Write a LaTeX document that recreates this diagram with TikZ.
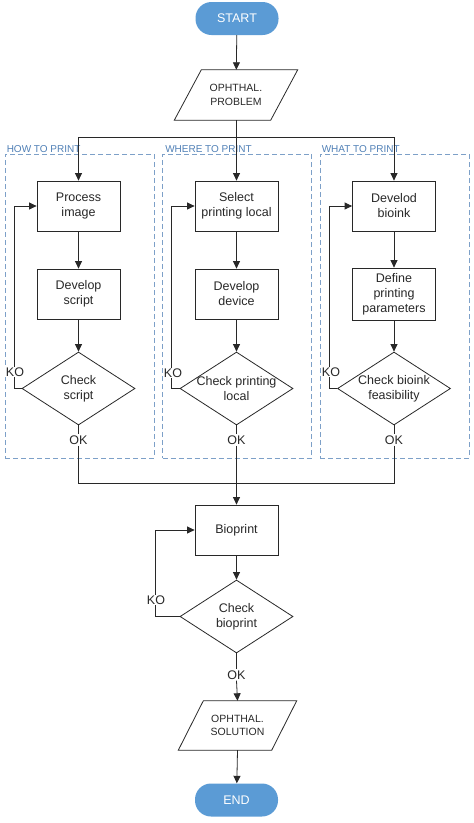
\documentclass[tikz,border=0pt]{standalone}
\usepackage{fontspec}
\setmainfont{Liberation Sans}
\usetikzlibrary{shapes.geometric,arrows.meta}
\definecolor{termblue}{RGB}{91,155,213}
\definecolor{dashblue}{RGB}{125,160,200}
\definecolor{titleblue}{RGB}{80,128,182}
\definecolor{linegray}{RGB}{40,40,40}
\begin{document}
\begin{tikzpicture}[x=1pt,y=-1pt,
  every node/.style={font=\fontsize{12.5}{15}\selectfont, text=linegray},
  ln/.style={draw=linegray, line width=0.8pt},
  arr/.style={ln, -{Triangle[width=7pt,length=7.5pt]}},
  term/.style={fill=termblue, draw=none, rounded corners=16pt, minimum width=83pt, minimum height=33pt, text=white, inner sep=0pt},
  proc/.style={ln, draw, fill=white, minimum width=83pt, minimum height=50pt, align=center, inner sep=1pt},
  dec/.style={ln, draw, diamond, fill=white, minimum width=113pt, minimum height=73pt, inner sep=0pt},
  dectext/.style={align=center, inner sep=0pt},
  io/.style={minimum width=96pt, minimum height=50pt, align=center, inner sep=0pt, font=\fontsize{10.5}{13.5}\selectfont},
  lab/.style={fill=white, inner sep=1pt, font=\fontsize{12.5}{14}\selectfont},
  grp/.style={draw=dashblue, line width=0.9pt, dash pattern=on 5pt off 3pt, minimum width=149pt, minimum height=304pt, inner sep=0pt},
  grptitle/.style={text=titleblue, font=\fontsize{10}{12}\selectfont, inner sep=0pt, anchor=base west}
]
\useasboundingbox (0,0) rectangle (474,823);

% group frames
\node[grp] (g1) at (79.5,306) {};
\node[grp] (g2) at (237,306) {};
\node[grp] (g3) at (394.5,306) {};
\node[grptitle] (g1t) at ([xshift=2pt,yshift=1.5pt]g1.north west) {HOW TO PRINT};
\node[grptitle] (g2t) at ([xshift=3pt,yshift=1.5pt]g2.north west) {WHERE TO PRINT};
\node[grptitle] (g3t) at ([xshift=2pt,yshift=1.5pt]g3.north west) {WHAT TO PRINT};

% top
\node[term] (start) at (237,18.5) {START};
\node[io] (prob) at (236,95) {OPHTHAL.\\PROBLEM};
\draw[ln] ([xshift=13.5pt]prob.north west) -- ([xshift=13.5pt]prob.north east)
  -- ([xshift=-13.5pt]prob.south east) -- ([xshift=-13.5pt]prob.south west) -- cycle;
\coordinate (split) at (236,137);
\coordinate (join) at (236.5,483);

% column 1
\node[proc] (a1) at (78.5,206) {Process\\image};
\node[proc] (a2) at (78.5,294) {Develop\\script};
\node[dec] (a3) at (78.5,388.5) {};
\node[dectext] (a3t) at (a3) {Check\\script};
% column 2
\node[proc] (b1) at (236.5,206) {Select\\printing local};
\node[proc] (b2) at (236.5,294) {Develop\\device};
\node[dec] (b3) at (236.5,388.5) {};
\node[dectext] (b3t) at (b3) {Check printing\\local};
% column 3
\node[proc] (c1) at (394,206) {Develod\\bioink};
\node[proc, minimum height=52pt] (c2) at (394,294) {Define\\printing\\parameters};
\node[dec] (c3) at (394,388.5) {};
\node[dectext] (c3t) at (c3) {Check bioink\\feasibility};

% bottom
\node[proc] (bio) at (236.5,530) {Bioprint};
\node[dec] (d4) at (236.5,616.5) {};
\node[dectext] (d4t) at (d4) {Check\\bioprint};
\node[io, minimum width=93pt, minimum height=49pt] (sol) at (237.5,725.5) {OPHTHAL.\\SOLUTION};
\draw[ln] ([xshift=12.5pt]sol.north west) -- ([xshift=12.5pt]sol.north east)
  -- ([xshift=-12.5pt]sol.south east) -- ([xshift=-12.5pt]sol.south west) -- cycle;
\node[term] (end) at (236.5,800) {END};

% OK labels
\node[lab] (ok1) at (78.5,440) {OK};
\node[lab] (ok2) at (236.5,440) {OK};
\node[lab] (ok3) at (394,440) {OK};
\node[lab] (ok4) at (236.5,675) {OK};

% connectors
\draw[arr] (start) -- (prob);
\draw[ln] (prob.south) -- (split);
\draw[arr] (split) -| (a1.north);
\draw[arr] (split) -- (split -| b1.north) -- (b1.north);
\draw[arr] (split) -| (c1.north);

\draw[arr] (a1) -- (a2);
\draw[arr] (a2) -- (a3);
\draw[arr] (b1) -- (b2);
\draw[arr] (b2) -- (b3);
\draw[arr] (c1) -- (c2);
\draw[arr] (c2) -- (c3);

\draw[arr] (a3.west) -- ++(-7.5,0) |- (a1.west);
\draw[arr] (b3.west) -- ++(-8,0) |- (b1.west);
\draw[arr] (c3.west) -- ++(-8,0) |- (c1.west);

\draw[ln] (a3.south) -- (ok1.north);
\draw[ln] (b3.south) -- (ok2.north);
\draw[ln] (c3.south) -- (ok3.north);
\draw[ln] (ok1.south) |- (join);
\draw[ln] (ok3.south) |- (join);
\draw[ln] (ok2.south) -- (join);
\draw[arr] (join) -- (bio);

\draw[arr] (bio) -- (d4);
\draw[arr] (d4.west) -- ++(-24.5,0) |- (bio.west);
\draw[ln] (d4.south) -- (ok4.north);
\draw[arr] (ok4.south) -- (sol.north);
\draw[arr] (sol.south) -- (end);

% KO labels
\node[lab] (ko1) at (15,372) {KO};
\node[lab] (ko2) at (173,373) {KO};
\node[lab] (ko3) at (331,372) {KO};
\node[lab] (ko4) at (156,600) {KO};
\end{tikzpicture}
\end{document}
